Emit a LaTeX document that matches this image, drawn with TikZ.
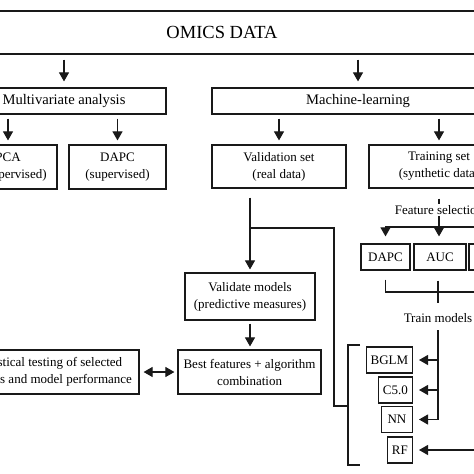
\documentclass[tikz,border=0pt]{standalone}
\usepackage{fontspec}
\setmainfont{Liberation Serif}
\usetikzlibrary{arrows.meta}

\begin{document}
\begin{tikzpicture}[x=1pt,y=-1pt,%
% common options for blocks:
block/.style = {draw=black!90, line width=1.2pt, align=center, inner sep=0,
            font=\fontsize{13}{17}\selectfont},
% common options for the two header blocks:
head/.style = {block, font=\fontsize{14.6}{17}\selectfont, minimum height=26},
% free labels sitting on the lines:
lbl/.style = {align=center, inner sep=1.5pt, font=\fontsize{13}{17}\selectfont},
line/.style = {draw=black!90, line width=1.1pt},
>={Triangle[width=10pt,length=9pt]}]
\useasboundingbox (0,0) rectangle (474,474);
\node[block,font=\fontsize{18.5}{22}\selectfont,minimum width=600,minimum height=43] (O0) at (222,32.5) {OMICS DATA};
\node[head,minimum width=204] (M0) at (64,101) {Multivariate analysis};
\node[head,minimum width=292] (L0) at (358,101) {Machine-learning};
\node[block,minimum width=98,minimum height=44] (M1) at (8,167) {PCA\\(unsupervised)};
\node[block,minimum width=97,minimum height=44] (M2) at (117.5,167) {DAPC\\(supervised)};
\node[block,minimum width=134,minimum height=43] (L1) at (279,166.5) {Validation set\\(real data)};
\node[block,minimum width=140,minimum height=43] (L2) at (439,166.5) {Training set\\(synthetic data)};
\node[lbl] (F0) at (439,210) {Feature selection};
\node[block,minimum width=49,minimum height=26] (F1) at (385.5,257) {DAPC};
\node[block,minimum width=52,minimum height=26] (F2) at (440,257) {AUC};
\node[block,minimum width=52,minimum height=26] (F3) at (495,257) {};
\node[lbl] (T0) at (438,318) {Train models};
\node[block,minimum width=46,minimum height=26,anchor=east] (T1) at (413,360) {BGLM};
\node[block,minimum width=34,minimum height=26,anchor=east] (T2) at (413,390) {C5.0};
\node[block,minimum width=31,minimum height=26,anchor=east] (T3) at (413,419.5) {NN};
\node[block,minimum width=25,minimum height=26,anchor=east] (T4) at (413,450) {RF};
\node[block,minimum width=130,minimum height=47] (V1) at (250,296.5) {Validate models\\(predictive measures)};
\node[block,minimum width=143,minimum height=44] (V2) at (249.5,372) {Best features + algorithm\\combination};
\node[block,minimum width=182,minimum height=44] (S1) at (48,372) {Statistical testing of selected\\features and model performance};
% top level arrows
\draw[line,->,shorten <=5pt,shorten >=6pt] (M0.north |- O0.south) -- (M0.north);
\draw[line,->,shorten <=5pt,shorten >=6pt] (L0.north |- O0.south) -- (L0.north);
\draw[line,->,shorten <=4pt,shorten >=4pt] (M1.north |- M0.south) -- (M1.north);
\draw[line,->,shorten <=4pt,shorten >=4pt] (M2.north |- M0.south) -- (M2.north);
\draw[line,->,shorten <=4pt,shorten >=4pt] (L1.north |- L0.south) -- (L1.north);
\draw[line,->,shorten <=4pt,shorten >=4pt] (L2.north |- L0.south) -- (L2.north);
% validation branch
\coordinate (VB) at (250,228);
\coordinate (VT) at (334,406);
\coordinate (BT) at (348,345);
\coordinate (BB) at (348,465);
\draw[line,->,shorten <=9pt,shorten >=3pt] (L1.south -| V1.north) -- (V1.north);
\draw[line] (VB) -| (VT) -- (VT -| BT);
\draw[line] ([xshift=12pt]BT) -- (BT) -- (BB) -- ([xshift=12pt]BB);
\draw[line,->,shorten <=3pt,shorten >=3pt] (V1.south) -- (V1.south |- V2.north);
\draw[line,<->,shorten <=4pt,shorten >=3pt] (S1.east) -- (V2.west);
% feature selection
\coordinate (FS) at (439,227);
\draw[line,shorten <=10pt] (L2.south -| F0.north) -- (F0.north);
\draw[line,->,shorten >=7pt] (F0.south) -- (F0.south |- F2.north);
\draw[line,->,shorten >=7pt] (FS -| F3.north) -- (FS -| F1.north) -- (F1.north);
\draw[line,->,shorten >=7pt] (FS -| F3.north) -- (F3.north);
% train models
\coordinate (TS) at (439,292);
\coordinate (RI) at (480,450);
\draw[line,shorten <=9pt] (F1.south) -- (TS -| F1.south) -- (TS -| F3.south) -- (F3.south);
\draw[line,shorten <=10pt,shorten >=9pt] (F2.south -| T0.north) -- (T0.north);
\draw[line,->,shorten <=6pt,shorten >=6pt] (T0.south) -- (T0.south |- T3.east) -- (T3.east);
\draw[line,->,shorten >=6pt] (T0.south |- T1.east) -- (T1.east);
\draw[line,->,shorten >=6pt] (T0.south |- T2.east) -- (T2.east);
\draw[line,->,shorten >=6pt] (RI) -- (T4.east);
\end{tikzpicture}
\end{document}
